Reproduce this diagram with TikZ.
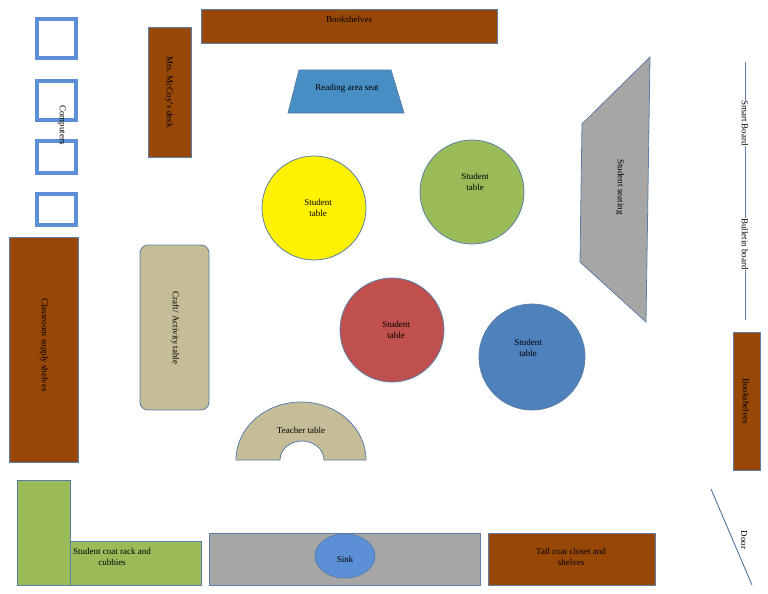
\documentclass[tikz,border=0pt]{standalone}
\usepackage{fontspec}
\setmainfont{Liberation Serif}
\usetikzlibrary{shapes.geometric}
\definecolor{brn}{HTML}{974806}
\definecolor{bdr}{HTML}{5B7FA8}
\definecolor{grn}{HTML}{9BBB59}
\definecolor{tan}{HTML}{C4BD97}
\definecolor{gry}{HTML}{A6A6A6}
\definecolor{blu}{HTML}{4F81BD}
\definecolor{cblu}{HTML}{5B8FD6}
\definecolor{rd}{HTML}{C0504D}
\tikzset{
 furn/.style={draw=bdr, line width=0.8pt},
 lbl/.style={font=\fontsize{9}{10.5}\selectfont, align=center, text=black},
 rlbl/.style={lbl, rotate=-90},
 comp/.style={draw=cblu, line width=4.5pt, fill=white},
}
\begin{document}
\begin{tikzpicture}[x=1pt,y=-1pt]
\useasboundingbox (0,0) rectangle (768,594);
% computers
\draw[comp] (37,19) rectangle (76,58);
\draw[comp] (37,81) rectangle (76,120);
\draw[comp] (37,141) rectangle (76,173);
\draw[comp] (37,194) rectangle (76,225);
\node[rlbl] (comp) at (62,125) {Computers};
% desk
\draw[furn, fill=brn] (148,27) rectangle (191,157);
\node[rlbl] (desk) at (169,92) {Mrs. McCoy's desk};
% top bookshelves
\draw[furn, fill=brn] (201,9) rectangle (497,43);
\node[lbl] (bs1) at (349,19) {Bookshelves};
% reading seat
\draw[furn, fill=blu!90!cyan] (299,70) -- (391,70) -- (404,113) -- (288,113) -- cycle;
\node[lbl] (read) at (347,88) {Reading area seat};
% circles
\draw[furn, fill=yellow] (314,208) circle (52);
\node[lbl] (t1) at (318,208) {Student\\table};
\draw[furn, fill=grn] (472,192) circle (52);
\node[lbl] (t2) at (475,182) {Student\\table};
\draw[furn, fill=rd] (392,330) circle (52);
\node[lbl] (t3) at (396,330) {Student\\table};
\draw[furn, fill=blu] (532,357) circle (53);
\node[lbl] (t4) at (528,348) {Student\\table};
% student seating
\draw[furn, fill=gry] (650,57) -- (646,322) -- (580,262) -- (582,124) -- cycle;
\node[rlbl] (ss) at (620,187) {Student seating};
% smart board
\draw[bdr, line width=1pt] (745,62) -- (745,320);
\node[rlbl, fill=white, inner sep=0.5pt] (sb) at (745,123) {Smart Board};
\node[rlbl, fill=white, inner sep=0.5pt] (bb) at (745,244) {Bulletin board};
% right bookshelves
\draw[furn, fill=brn] (733,332) rectangle (760,470);
\node[rlbl] (bs2) at (746,401) {Bookshelves};
% door
\draw[bdr, line width=1pt] (711,489) -- (752,585);
\node[rlbl] (door) at (744,540) {Door};
% supply shelves
\draw[furn, fill=brn] (9,237) rectangle (78,462);
\node[rlbl] (sup) at (44,345) {Classroom supply shelves};
% craft
\draw[furn, fill=tan, rounded corners=8pt] (140,245) rectangle (209,410);
\node[rlbl] (craft) at (175,328) {Craft/ Activity table};
% teacher table
\draw[furn, fill=tan] (236,460) arc[start angle=180, end angle=360, x radius=65, y radius=58]
  -- (324,460) arc[start angle=0, end angle=-180, x radius=22, y radius=19] -- cycle;
\node[lbl] (tt) at (301,430) {Teacher table};
% coat rack
\draw[furn, fill=grn] (17,480) rectangle (70,585);
\draw[furn, fill=grn] (70,541) rectangle (201,585);
\node[lbl] (coat) at (112,557) {Student coat rack and\\cubbies};
% sink counter
\draw[furn, fill=gry] (209,533) rectangle (480,585);
\draw[furn, fill=cblu] (345,556) ellipse (30 and 22);
\node[lbl] (sink) at (345,559) {Sink};
% closet
\draw[furn, fill=brn] (488,533) rectangle (655,585);
\node[lbl] (closet) at (571,557) {Tall coat closet and\\shelves};
\end{tikzpicture}
\end{document}
